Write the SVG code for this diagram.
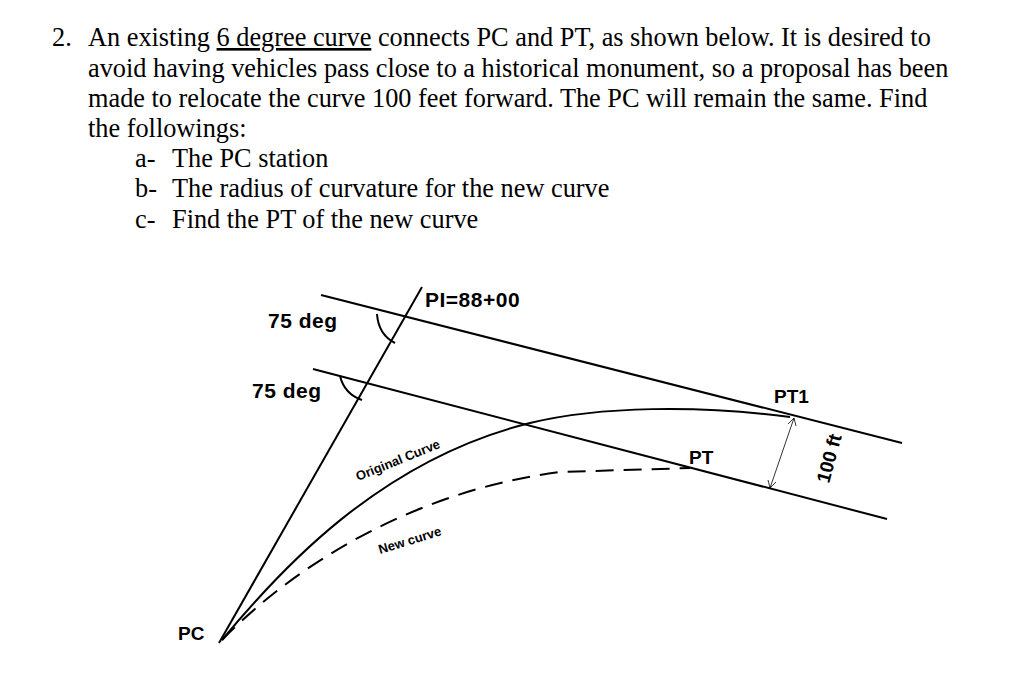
<svg xmlns="http://www.w3.org/2000/svg" width="1024" height="681" viewBox="0 0 1024 681">
<style>
.t{font-family:"Liberation Serif",serif;font-size:26.3px;fill:#000}
.l{font-family:"Liberation Sans",Arial,sans-serif;font-weight:bold;fill:#000}
.s{stroke:#000;fill:none;stroke-width:2}
</style>
<rect width="1024" height="681" fill="#fff"/>
<g id="text">
<text class="t" x="52" y="46">2.</text>
<text class="t" x="88" y="46">An existing <tspan text-decoration="underline">6 degree curve</tspan> connects PC and PT, as shown below. It is desired to</text>
<text class="t" x="88" y="77">avoid having vehicles pass close to a historical monument, so a proposal has been</text>
<text class="t" x="88" y="107">made to relocate the curve 100 feet forward. The PC will remain the same.  Find</text>
<text class="t" x="88" y="137">the followings:</text>
<text class="t" x="135" y="167">a-</text><text class="t" x="172" y="167">The PC station</text>
<text class="t" x="135" y="197">b-</text><text class="t" x="172" y="197">The radius of curvature for the new curve</text>
<text class="t" x="135" y="228">c-</text><text class="t" x="172" y="228">Find the PT of the new curve</text>
</g>
<g id="connectors">
<line class="s" x1="219" y1="643" x2="422" y2="287"/>
<line class="s" x1="321" y1="295" x2="902" y2="443"/>
<line class="s" x1="313" y1="369" x2="887" y2="519"/>
<path class="s" d="M222,640 C280,570 380,460 530,423 C600,406 700,405 790,417"/>
<path class="s" stroke-dasharray="18,10" d="M222,640 C300,560 420,490 560,472 L690,468"/>
<path class="s" stroke-width="1.5" d="M377,314 C378,328 385,338 395,343"/>
<path class="s" stroke-width="1.5" d="M340,376 C343,388 350,396 362,400"/>
<g stroke="#000" stroke-width="0.8" fill="none">
<line x1="794" y1="418" x2="770" y2="488"/>
<path d="M788,424 L794,418 L796,426"/>
<path d="M768,480 L770,488 L776,482"/>
</g>
</g>
<g id="labels">
<text class="l" font-size="21" letter-spacing="0.5" x="425" y="307">PI=88+00</text>
<text class="l" font-size="21" letter-spacing="0.5" x="268" y="328">75 deg</text>
<text class="l" font-size="21" letter-spacing="0.5" x="252" y="398">75 deg</text>
<text class="l" font-size="19" x="774" y="403">PT1</text>
<text class="l" font-size="19" x="689" y="464">PT</text>
<text class="l" font-size="19" x="178" y="640">PC</text>
<text class="l" font-size="19" transform="translate(829,484) rotate(-75)">100 ft</text>
<text class="l" font-size="13" transform="translate(358,481) rotate(-22)">Original Curve</text>
<text class="l" font-size="13" transform="translate(380,554) rotate(-17)">New curve</text>
</g>
</svg>
